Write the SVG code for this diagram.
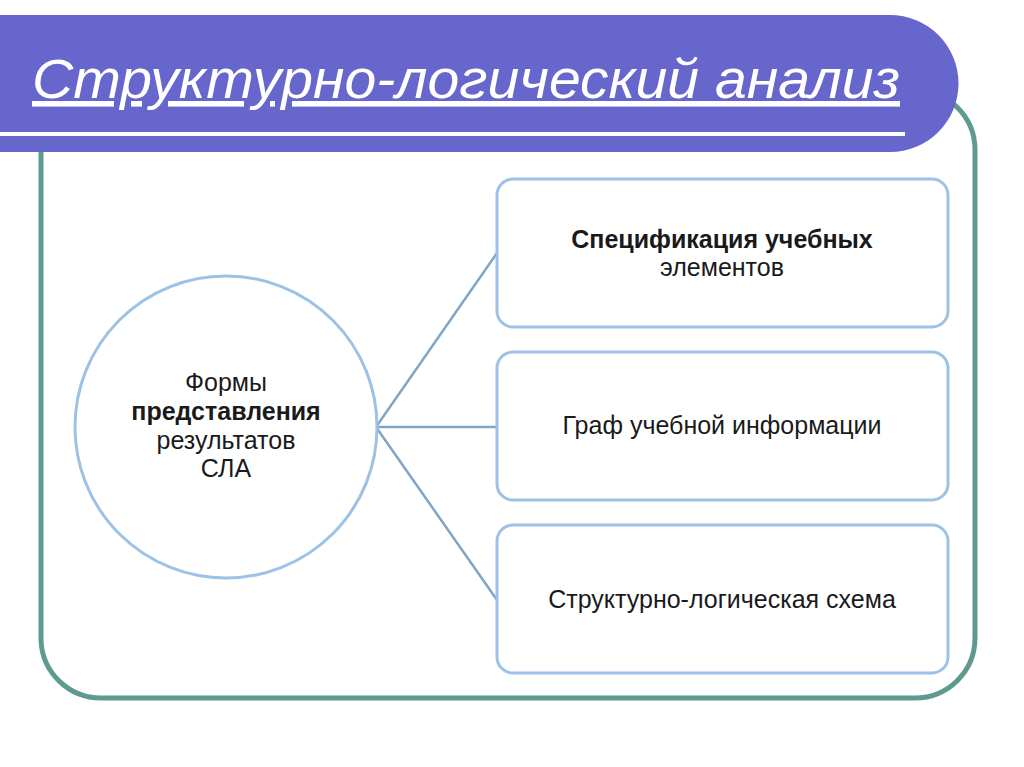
<svg xmlns="http://www.w3.org/2000/svg" width="1024" height="767" viewBox="0 0 1024 767">
<style>
.box{fill:#fff;stroke:#9cc2e5;stroke-width:3}
.t{font-family:"Liberation Sans",Arial,sans-serif;font-size:25px;fill:#1a1a1a;text-anchor:middle}
.c{stroke:#7ea6c9;stroke-width:2.5;fill:none}
</style>
<rect width="1024" height="767" fill="#fff"/>
<path d="M41 140 V640 a60 60 0 0 0 60 58 H915 a60 60 0 0 0 60 -60 V150 a60 60 0 0 0 -60 -60" fill="none" stroke="#5f9a90" stroke-width="5"/>
<g id="title">
<path d="M0 15 H890 a68 68 0 0 1 0 137 H0 Z" fill="#6666cc"/>
<rect x="0" y="132" width="905" height="4" fill="#fff"/>
<text x="32" y="98" font-family="Liberation Sans,Arial,sans-serif" font-size="56" font-style="italic" fill="#fff" text-decoration="underline" textLength="868" lengthAdjust="spacingAndGlyphs">Структурно-логический анализ</text>
</g>
<g id="connectors">
<line class="c" x1="376" y1="427" x2="497" y2="253"/>
<line class="c" x1="376" y1="427" x2="497" y2="427"/>
<line class="c" x1="376" y1="427" x2="497" y2="600"/>
</g>
<g id="circle">
<circle cx="226" cy="427" r="151" class="box"/>
<text class="t" x="226" y="391">Формы</text>
<text class="t" x="226" y="420" font-weight="bold">представления</text>
<text class="t" x="226" y="449">результатов</text>
<text class="t" x="226" y="477">СЛА</text>
</g>
<g id="b1"><rect class="box" x="497" y="179" width="451" height="148" rx="16"/>
<text class="t" x="722" y="248" font-weight="bold">Спецификация учебных</text>
<text class="t" x="722" y="276">элементов</text></g>
<g id="b2"><rect class="box" x="497" y="352" width="451" height="148" rx="16"/>
<text class="t" x="722" y="434">Граф учебной информации</text></g>
<g id="b3"><rect class="box" x="497" y="525" width="451" height="148" rx="16"/>
<text class="t" x="722" y="608">Структурно-логическая схема</text></g>
</svg>
